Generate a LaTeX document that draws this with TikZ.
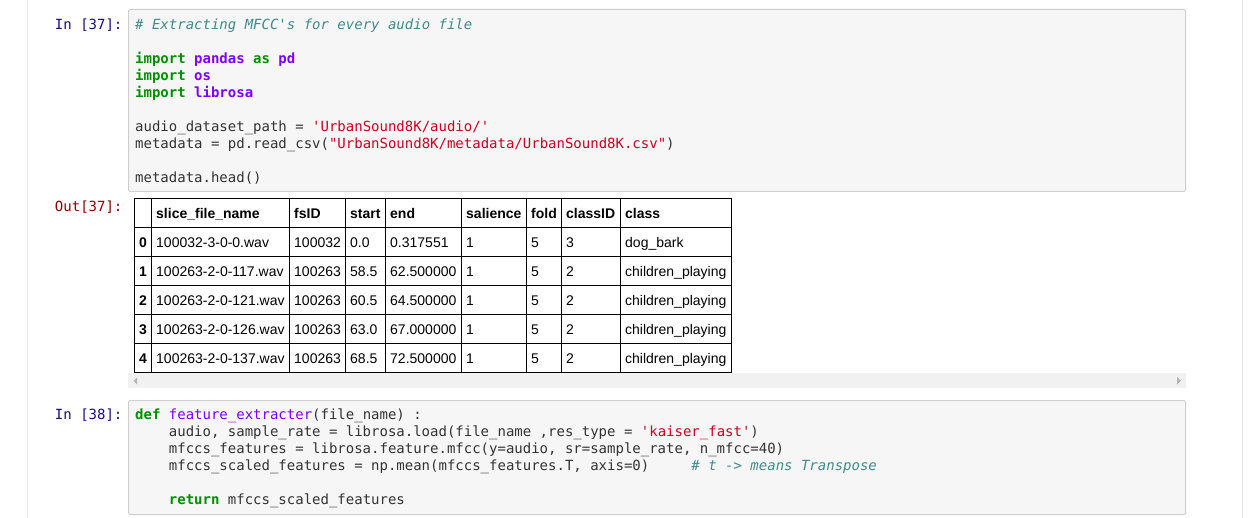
\documentclass[tikz,border=0pt]{standalone}
\usepackage{fontspec}
\setmainfont{Liberation Sans}
\newfontfamily\cf[Ligatures=NoCommon]{DejaVu Sans Mono}
\definecolor{codetext}{HTML}{333333}
\definecolor{kw}{HTML}{008F00}
\definecolor{modn}{HTML}{7F00FF}
\definecolor{cmt}{HTML}{3F8A8C}
\definecolor{strg}{HTML}{CC0022}
\definecolor{promptin}{HTML}{1A0A80}
\definecolor{promptout}{HTML}{8B0000}
\newcommand{\K}[1]{\textcolor{kw}{\bfseries #1}}
\newcommand{\M}[1]{\textcolor{modn}{\bfseries #1}}
\newcommand{\Fn}[1]{\textcolor{modn}{#1}}
\newcommand{\St}[1]{\textcolor{strg}{#1}}
\newcommand{\Cm}[1]{\textcolor{cmt}{\itshape #1}}
\tikzset{
  cellbox/.style={draw=black!19,line width=1pt,fill=black!3.5,rounded corners=2pt},
  codeline/.style={anchor=base west,inner sep=0pt,text=codetext,font=\fontsize{14}{17}\selectfont\cf},
  promptlabel/.style={anchor=base east,inner sep=0pt,font=\fontsize{14}{17}\selectfont\cf},
  tcell/.style={anchor=base west,inner sep=0pt,text=black,font=\fontsize{14}{17}\selectfont},
  thead/.style={tcell,font=\fontsize{14}{17}\selectfont\bfseries},
  rule/.style={draw=black,line width=1pt}
}
\begin{document}
\begin{tikzpicture}[x=1pt,y=-1pt]
\useasboundingbox (0,0) rectangle (1260,518);
\fill[white] (0,0) rectangle (1260,518);
% notebook page edges
\draw[draw=black!9,line width=1pt] (27.5,0) -- (27.5,518);
\draw[draw=blue!10!black!10,line width=1pt] (1242.5,0) -- (1242.5,518);
% cell boxes
\path[cellbox] (128.5,9.5) rectangle (1185.5,191.5);
\path[cellbox] (128.5,400.5) rectangle (1185.5,514.5);
% prompts
\node[promptlabel,text=promptin] (p37) at (122.6,29.6) {In [37]:};
\node[promptlabel,text=promptout] (o37) at (122.6,211.6) {Out[37]:};
\node[promptlabel,text=promptin] (p38) at (122.6,419) {In [38]:};
% first cell
\node[codeline] (a1) at (135,29.6) {\Cm{\# Extracting MFCC's for every audio file}};
\node[codeline] (a2) at (135,63.6) {\K{import} \M{pandas} \K{as} \M{pd}};
\node[codeline] (a3) at (135,80.6) {\K{import} \M{os}};
\node[codeline] (a4) at (135,97.6) {\K{import} \M{librosa}};
\node[codeline] (a5) at (135,131.6) {audio\_dataset\_path = \St{'UrbanSound8K/audio/'}};
\node[codeline] (a6) at (135,148.6) {metadata = pd.read\_csv(\St{"UrbanSound8K/metadata/UrbanSound8K.csv"})};
\node[codeline] (a7) at (135,182.6) {metadata.head()};
% second cell
\node[codeline] (b1) at (135,419) {\K{def} \Fn{feature\_extracter}(file\_name) :};
\node[codeline] (b2) at (168.7,436) {audio, sample\_rate = librosa.load(file\_name ,res\_type = \St{'kaiser\_fast'})};
\node[codeline] (b3) at (168.7,453) {mfccs\_features = librosa.feature.mfcc(y=audio, sr=sample\_rate, n\_mfcc=40)};
\node[codeline] (b4) at (168.7,470) {mfccs\_scaled\_features = np.mean(mfccs\_features.T, axis=0)\ \ \ \ \ \Cm{\# t -> means Transpose}};
\node[codeline] (b5) at (168.7,504) {\K{return} mfccs\_scaled\_features};
% scroll bar
\fill[black!5.5] (128,373) rectangle (1186,388);
\fill[black!30] (137,377.5) -- (137,384.5) -- (133.5,381) -- cycle;
\fill[black!30] (1177,377) -- (1177,384.5) -- (1181,380.7) -- cycle;
% table grid
\fill[white] (134.5,198.5) rectangle (731.5,372.5);
\foreach \yy in {198.5,227.5,256.5,285.5,314.5,343.5,372.5}
  \draw[rule] (134,\yy) -- (732,\yy);
\foreach \xx in {134.5,151.5,289.5,345.5,385.5,461.5,526.5,561.5,620.5,731.5}
  \draw[rule] (\xx,198) -- (\xx,373);
% header
\node[thead] (h1) at (156,218.5) {slice\_file\_name};
\node[thead] (h2) at (294,218.5) {fsID};
\node[thead] (h3) at (350,218.5) {start};
\node[thead] (h4) at (390,218.5) {end};
\node[thead] (h5) at (466,218.5) {salience};
\node[thead] (h6) at (531,218.5) {fold};
\node[thead] (h7) at (566,218.5) {classID};
\node[thead] (h8) at (625,218.5) {class};
% rows
\foreach \r/\yy/\nm/\fs/\st/\en/\cid/\cl in {
  0/247.5/100032-3-0-0.wav/100032/0.0/0.317551/3/dog\_bark,
  1/276.5/100263-2-0-117.wav/100263/58.5/62.500000/2/children\_playing,
  2/305.5/100263-2-0-121.wav/100263/60.5/64.500000/2/children\_playing,
  3/334.5/100263-2-0-126.wav/100263/63.0/67.000000/2/children\_playing,
  4/363.5/100263-2-0-137.wav/100263/68.5/72.500000/2/children\_playing}{
  \node[thead] (r\r i) at (139,\yy) {\r};
  \node[tcell] (r\r a) at (156,\yy) {\nm};
  \node[tcell] (r\r b) at (294,\yy) {\fs};
  \node[tcell] (r\r c) at (350,\yy) {\st};
  \node[tcell] (r\r d) at (390,\yy) {\en};
  \node[tcell] (r\r e) at (466,\yy) {1};
  \node[tcell] (r\r f) at (531,\yy) {5};
  \node[tcell] (r\r g) at (566,\yy) {\cid};
  \node[tcell] (r\r h) at (625,\yy) {\cl};
}
\end{tikzpicture}
\end{document}
